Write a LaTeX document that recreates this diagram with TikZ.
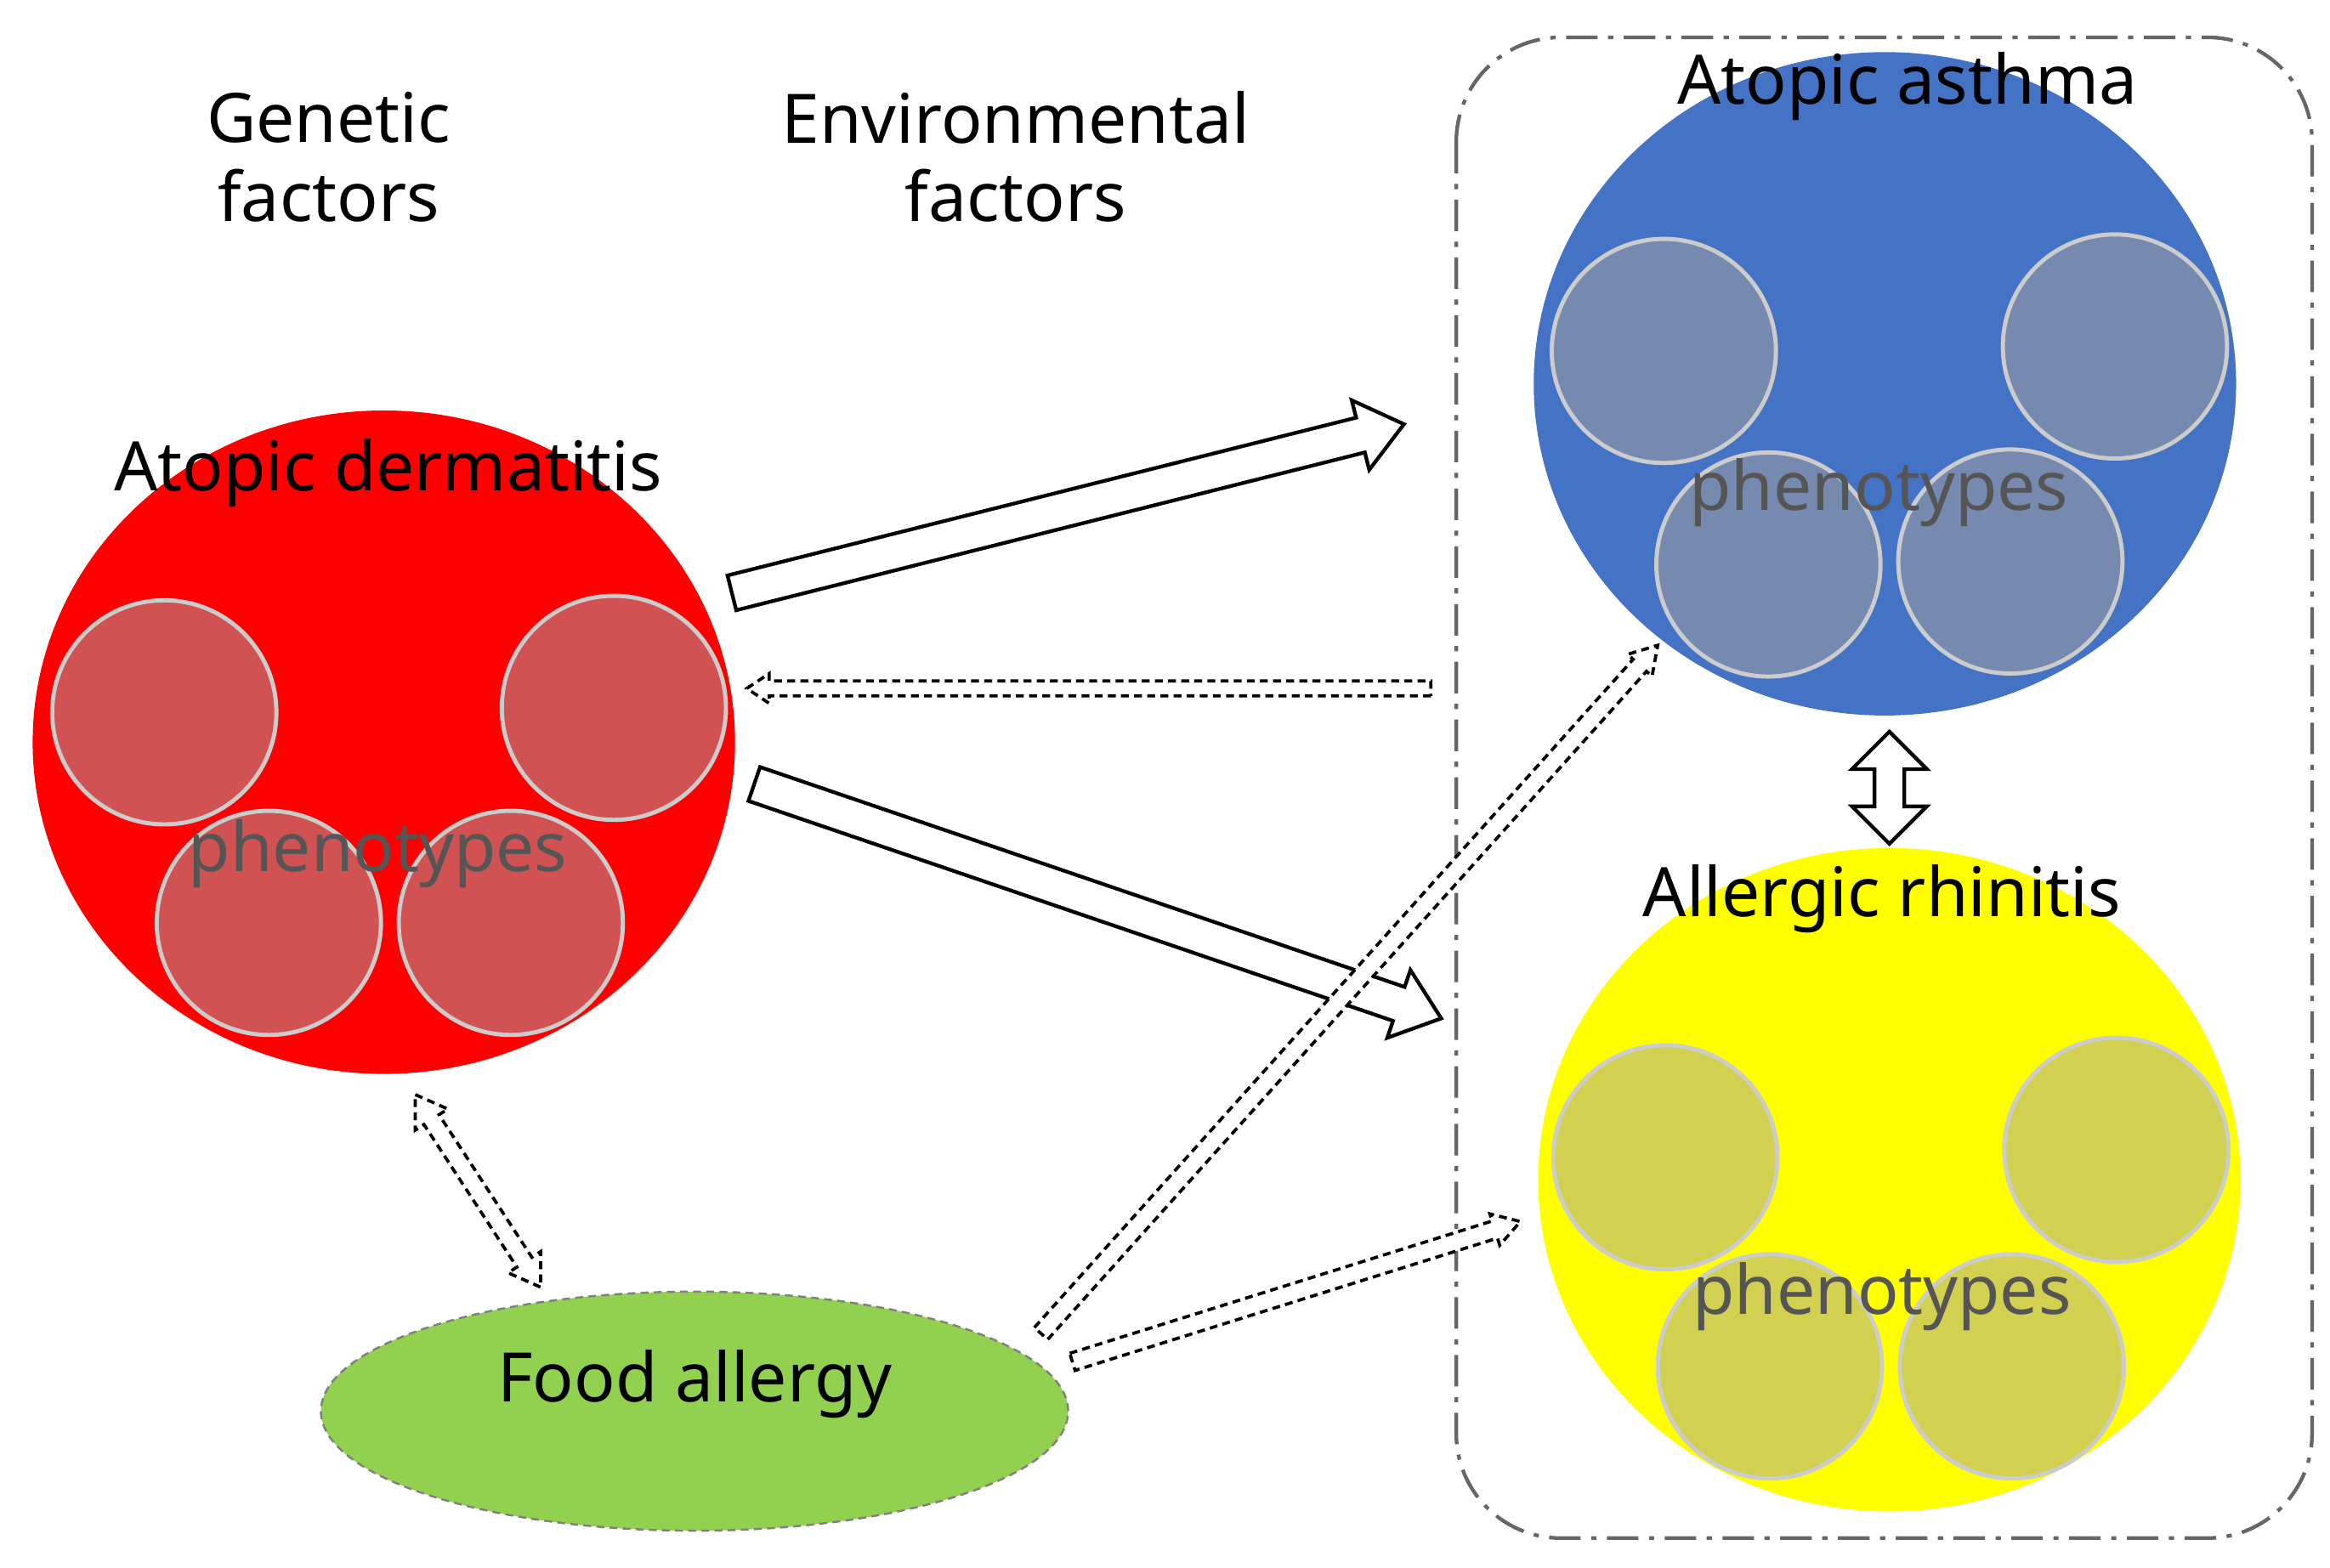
\documentclass[tikz,border=0pt]{standalone}
\usepackage{fontspec}
\setmainfont{Noto Sans}
\usetikzlibrary{shapes.geometric}
\definecolor{adred}{RGB}{255,0,0}
\definecolor{adsmall}{RGB}{208,82,82}
\definecolor{aablue}{RGB}{68,114,196}
\definecolor{aasmall}{RGB}{118,138,176}
\definecolor{aryel}{RGB}{255,255,0}
\definecolor{arsmall}{RGB}{210,208,80}
\definecolor{fagreen}{RGB}{146,208,80}
\definecolor{phen}{RGB}{85,85,85}
% #1 style, #2 x0,#3 y0,#4 x1,#5 y1, #6 halfwidth, #7 head half, #8 head length, #9 double(1/0)
\newcommand\fatarr[9]{%
  \pgfmathsetmacro\fdx{#4-#2}\pgfmathsetmacro\fdy{#3-#5}%
  \pgfmathsetmacro\fang{atan2(\fdy,\fdx)}\pgfmathsetmacro\flen{veclen(\fdx,\fdy)}%
  \pgfmathsetmacro\fb{\flen-#8}%
  \begin{scope}[shift={(#2,#3)},rotate=\fang,x=0.01cm,y=0.01cm]
  \ifnum#9=1
   \draw[#1] (0,0)--(#8,#7)--(#8,#6)--(\fb,#6)--(\fb,#7)--(\flen,0)--(\fb,-#7)--(\fb,-#6)--(#8,-#6)--(#8,-#7)--cycle;
  \else
   \draw[#1] (0,#6)--(\fb,#6)--(\fb,#7)--(\flen,0)--(\fb,-#7)--(\fb,-#6)--(0,-#6)--cycle;
  \fi
  \end{scope}}
\begin{document}
\begin{tikzpicture}[x=0.01cm,y=-0.01cm,
  big/.style={ellipse,minimum width=4.7cm,minimum height=4.44cm,inner sep=0},
  sm/.style={circle,minimum size=1.5cm,draw=gray!40,line width=0.8pt,inner sep=0},
  lab/.style={font=\fontsize{13}{15}\selectfont\bfseries,align=center},
  ph/.style={font=\fontsize{13}{15}\selectfont\bfseries,text=phen},
  solid arr/.style={draw=black,fill=white,line width=0.7pt},
  dot arr/.style={draw=black,fill=white,line width=0.6pt,dash pattern=on 1.5pt off 1pt}]
\useasboundingbox (0,0) rectangle (1560,1050);
\draw[gray!80!black,line width=0.7pt,dash pattern=on 6pt off 2pt on 1pt off 2pt,rounded corners=0.7cm] (975,25) rectangle (1548,1030);
\node[lab] (gen) at (220,105) {Genetic\\factors};
\node[lab] (env) at (680,105) {Environmental\\factors};
% AD
\node[big,fill=adred] (ad) at (257,497) {};
\node[sm,fill=adsmall] (ad1) at (110,477) {};
\node[sm,fill=adsmall] (ad2) at (411,474) {};
\node[sm,fill=adsmall] (ad3) at (180,618) {};
\node[sm,fill=adsmall] (ad4) at (342,618) {};
\node[lab] (adl) at (260,317) {Atopic dermatitis};
\node[ph] (adp) at (253,572) {phenotypes};
% AA
\node[big,fill=aablue] (aa) at (1262,257) {};
\node[sm,fill=aasmall] (aa1) at (1114,235) {};
\node[sm,fill=aasmall] (aa2) at (1416,232) {};
\node[sm,fill=aasmall] (aa3) at (1184,378) {};
\node[sm,fill=aasmall] (aa4) at (1346,376) {};
\node[lab] (aal) at (1277,58) {Atopic asthma};
\node[ph] (aap) at (1258,330) {phenotypes};
% AR
\node[big,fill=aryel] (ar) at (1265,790) {};
\node[sm,fill=arsmall] (ar1) at (1115,775) {};
\node[sm,fill=arsmall] (ar2) at (1417,770) {};
\node[sm,fill=arsmall] (ar3) at (1185,915) {};
\node[sm,fill=arsmall] (ar4) at (1347,915) {};
\node[lab] (arl) at (1260,602) {Allergic rhinitis};
\node[ph] (arp) at (1260,868) {phenotypes};
% FA
\node[ellipse,minimum width=5cm,minimum height=1.6cm,fill=fagreen,draw=gray,dash pattern=on 1.5pt off 1pt] (fa) at (465,945) {};
\node[lab] (fal) at (465,927) {Food allergy};
% arrows
\fatarr{solid arr}{490}{397}{940}{284}{12}{24}{30}{0}
\fatarr{solid arr}{505}{525}{965}{682}{12}{24}{30}{0}
\fatarr{dot arr}{958}{461}{500}{461}{5}{10}{15}{0}
\fatarr{solid arr}{1265}{490}{1265}{565}{10}{25}{25}{1}
\fatarr{dot arr}{278}{733}{362}{862}{6}{13}{20}{1}
\fatarr{dot arr}{697}{893}{1110}{432}{6}{11}{18}{0}
\fatarr{dot arr}{718}{912}{1018}{818}{6}{11}{18}{0}
\end{tikzpicture}
\end{document}
